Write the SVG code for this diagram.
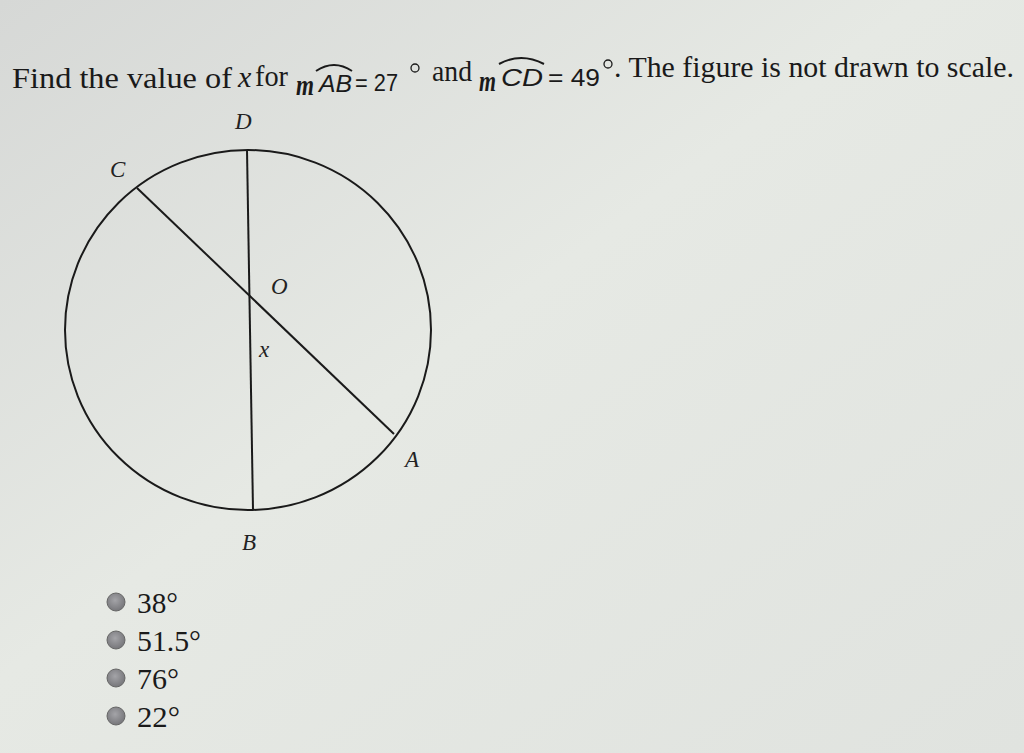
<svg xmlns="http://www.w3.org/2000/svg" width="1024" height="753" viewBox="0 0 1024 753">
<defs>
<linearGradient id="bg" x1="0" y1="0" x2="1" y2="1">
<stop offset="0" stop-color="#d6d8d6"/>
<stop offset="0.45" stop-color="#e6e9e4"/>
<stop offset="1" stop-color="#e0e3df"/>
</linearGradient>
<radialGradient id="rb" cx="0.45" cy="0.4" r="0.6">
<stop offset="0" stop-color="#a4a4a8"/>
<stop offset="1" stop-color="#76767a"/>
</radialGradient>
<style>
.t{font-family:"Liberation Serif",serif;font-size:30px;fill:#1a1a1a}
.s{font-family:"Liberation Sans",sans-serif;font-size:23px;fill:#1a1a1a}
.i{font-family:"Liberation Sans",sans-serif;font-style:italic;font-size:23px;fill:#1a1a1a}
.lbl{font-family:"Liberation Serif",serif;font-style:italic;font-size:23px;fill:#222}
.ln{stroke:#1a1a1a;stroke-width:2;fill:none}
.rad{fill:url(#rb);stroke:#666;stroke-width:1}
.opt{font-family:"Liberation Serif",serif;font-size:29px;fill:#1a1a1a}
</style>
</defs>
<rect width="1024" height="753" fill="url(#bg)"/>
<g id="question">
<text class="t" x="12" y="88" textLength="220" lengthAdjust="spacingAndGlyphs">Find the value of</text>
<text class="t" x="238" y="87" font-style="italic">x</text>
<text class="t" x="255" y="86" textLength="33" lengthAdjust="spacingAndGlyphs">for</text>
<text class="t" x="296" y="95" font-size="19" font-style="italic" font-weight="bold" textLength="18" lengthAdjust="spacingAndGlyphs">m</text>
<text class="i" x="319" y="92" textLength="33" lengthAdjust="spacingAndGlyphs">AB</text>
<path class="ln" d="M316 71 Q334 59 352 71" stroke-width="1.6"/>
<text class="s" x="355" y="91" textLength="43" lengthAdjust="spacingAndGlyphs">= 27</text>
<circle cx="415" cy="68" r="4" fill="none" stroke="#1a1a1a" stroke-width="1.3"/>
<text class="t" x="432" y="81" textLength="40" lengthAdjust="spacingAndGlyphs">and</text>
<text class="t" x="479" y="91" font-size="19" font-style="italic" font-weight="bold" textLength="17" lengthAdjust="spacingAndGlyphs">m</text>
<text class="i" x="501" y="86" textLength="42" lengthAdjust="spacingAndGlyphs">CD</text>
<path class="ln" d="M499 64 Q521 52 544 64" stroke-width="1.6"/>
<text class="s" x="548" y="86" textLength="52" lengthAdjust="spacingAndGlyphs">= 49</text>
<circle cx="608" cy="64" r="4" fill="none" stroke="#1a1a1a" stroke-width="1.3"/>
<text class="t" x="614" y="77" font-size="31" textLength="400" lengthAdjust="spacingAndGlyphs">. The figure is not drawn to scale.</text>
</g>
<g id="circle">
<ellipse class="ln" cx="248" cy="330" rx="183" ry="180"/>
</g>
<g id="connectors">
<line class="ln" x1="247" y1="150" x2="253" y2="510"/>
<line class="ln" x1="137" y1="188" x2="394" y2="434"/>
</g>
<g id="labels">
<text class="lbl" x="235" y="129">D</text>
<text class="lbl" x="110" y="177">C</text>
<text class="lbl" x="271" y="294">O</text>
<text class="lbl" x="259" y="357">x</text>
<text class="lbl" x="405" y="467">A</text>
<text class="lbl" x="242" y="550">B</text>
</g>
<g id="options">
<circle class="rad" cx="116" cy="602" r="9"/>
<text class="opt" x="137" y="613" textLength="41" lengthAdjust="spacingAndGlyphs">38°</text>
<circle class="rad" cx="116" cy="640" r="9"/>
<text class="opt" x="137" y="651" textLength="64" lengthAdjust="spacingAndGlyphs">51.5°</text>
<circle class="rad" cx="116" cy="678" r="9"/>
<text class="opt" x="137" y="689" textLength="42" lengthAdjust="spacingAndGlyphs">76°</text>
<circle class="rad" cx="116" cy="716" r="9"/>
<text class="opt" x="137" y="727" textLength="43" lengthAdjust="spacingAndGlyphs">22°</text>
</g>
</svg>
